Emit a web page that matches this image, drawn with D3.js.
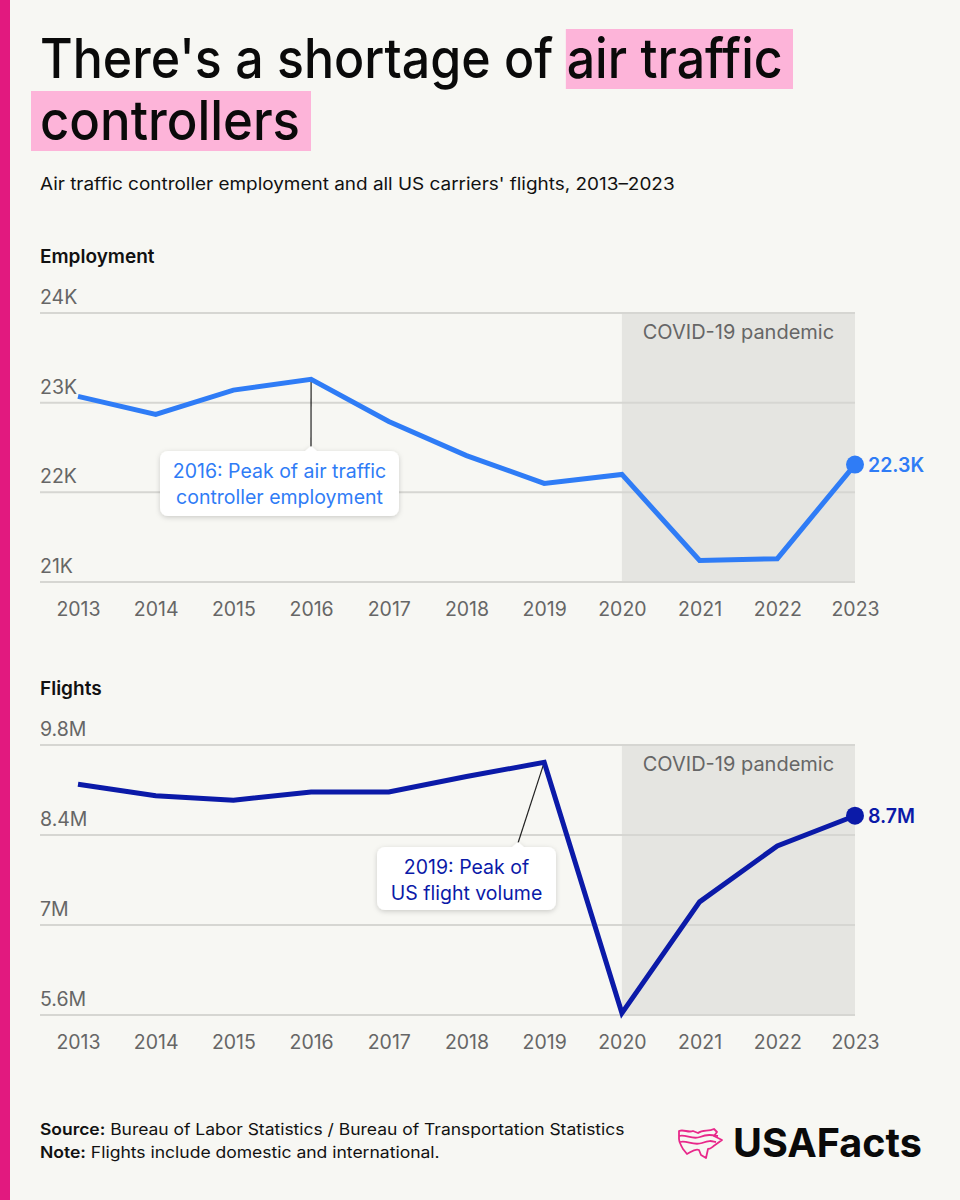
<!DOCTYPE html>
<html>
<head>
<meta charset="utf-8">
<script src="https://cdn.jsdelivr.net/npm/d3@7"></script>
<style>
  body { margin: 0; background: #f7f7f3; }
  svg text { font-family: Inter, "Noto Sans", sans-serif; }
</style>
</head>
<body>
<svg id="chart" width="960" height="1200"></svg>
<script>
// data
const years = [2013, 2014, 2015, 2016, 2017, 2018, 2019, 2020, 2021, 2022, 2023];
const employment = [23070, 22870, 23140, 23260, 22790, 22410, 22100, 22200, 21240, 21260, 22310];
const flights = [9.19, 9.01, 8.94, 9.07, 9.07, 9.31, 9.53, 5.63, 7.36, 8.23, 8.70]; // millions
const employmentTicks = [21000, 22000, 23000, 24000];
const flightTicks = [5.6, 7, 8.4, 9.8];
const covidYears = [2020, 2023];

const svg = d3.select("#chart");

svg.append("rect").attr("width", 960).attr("height", 1200).attr("fill", "#f7f7f3");
svg.append("rect").attr("width", 10).attr("height", 1200).attr("fill", "#e2197f");

// drop shadow for the callout boxes
const defs = svg.append("defs");
defs.append("filter").attr("id", "shadow")
  .attr("x", "-20%").attr("y", "-20%").attr("width", "140%").attr("height", "160%")
  .append("feDropShadow")
  .attr("dx", 0).attr("dy", 1.5).attr("stdDeviation", 2.5)
  .attr("flood-color", "#000").attr("flood-opacity", 0.18);

// squeeze a start-anchored text horizontally to a given width, returns the factor
function fit(sel, w) {
  const x0 = +sel.attr("x");
  const k = w / sel.node().getComputedTextLength();
  sel.attr("transform", `translate(${x0},0) scale(${k},1) translate(${-x0},0)`);
  return k;
}

// ---- title with pink highlights (one text per line, highlight drawn behind)
const title = svg.append("g");
const hlLayer = title.append("g");
function titleLine(plain, marked, base, width, padL, padR) {
  const t = title.append("text")
    .attr("x", 40).attr("y", base)
    .attr("font-size", 55).attr("font-weight", 500)
    .attr("fill", "#0a0a0a")
    .style("white-space", "pre");
  if (plain) t.append("tspan").text(plain);
  t.append("tspan").text(marked);
  const pre = plain ? t.node().getSubStringLength(0, plain.length) : 0;
  const k = fit(t, width);
  const x0 = 40 + pre * k;
  hlLayer.append("rect")
    .attr("x", x0 - padL).attr("y", base - 49)
    .attr("width", 40 + width - x0 + padL + padR).attr("height", 60)
    .attr("fill", "#fdb4d9");
}
titleLine("There's a shortage of ", "air traffic", 78, 743, 1, 10);
titleLine("", "controllers", 140, 260, 9, 11);

const sub = svg.append("text")
  .attr("x", 40).attr("y", 190)
  .attr("font-size", 17).attr("fill", "#111")
  .text("Air traffic controller employment and all US carriers' flights, 2013\u20132023");
fit(sub, 635);

// ---- shared x scale
const x = d3.scaleLinear().domain([2013, 2023]).range([78, 855]);
const gridLeft = 40;

function drawPanel(opts) {
  const g = svg.append("g");
  const y = d3.scaleLinear().domain(opts.domain).range([opts.bottom, opts.top]);

  g.append("text")
    .attr("x", 40).attr("y", opts.top - 50)
    .attr("font-size", 19).attr("font-weight", 600).attr("fill", "#111")
    .text(opts.title);

  // covid shading
  g.append("rect")
    .attr("x", x(covidYears[0])).attr("y", opts.top)
    .attr("width", x(covidYears[1]) - x(covidYears[0]))
    .attr("height", opts.bottom - opts.top)
    .attr("fill", "#e5e5e1");
  g.append("text")
    .attr("x", (x(covidYears[0]) + x(covidYears[1])) / 2)
    .attr("y", opts.top + 26)
    .attr("text-anchor", "middle")
    .attr("font-size", 20).attr("fill", "#666")
    .text("COVID-19 pandemic");

  // gridlines + labels sitting above them
  const grid = g.selectAll(".grid").data(opts.ticks).join("g").attr("class", "grid");
  grid.append("line")
    .attr("x1", gridLeft).attr("x2", x(2023))
    .attr("y1", d => y(d)).attr("y2", d => y(d))
    .attr("stroke", "#d6d6d2").attr("stroke-width", 2);
  grid.append("text")
    .attr("x", gridLeft).attr("y", d => y(d) - 9)
    .attr("font-size", 19.5).attr("fill", "#666")
    .text(opts.tickFormat);

  // year axis
  const axis = g.append("g")
    .attr("transform", `translate(0,${opts.bottom})`)
    .call(d3.axisBottom(x).tickValues(years).tickFormat(d3.format("d")).tickSize(0).tickPadding(20));
  axis.select(".domain").remove();
  axis.selectAll("text")
    .attr("font-size", 19.5).attr("fill", "#666")
    .style("font-family", "Inter, 'Noto Sans', sans-serif");

  // leader line under the line
  const a = opts.note;
  const pi = years.indexOf(a.year);
  g.append("line")
    .attr("x1", x(a.year)).attr("y1", y(opts.values[pi]))
    .attr("x2", a.px).attr("y2", a.by - 4)
    .attr("stroke", "#222").attr("stroke-width", 1.2);

  // the series
  const line = d3.line().x((d, i) => x(years[i])).y(d => y(d));
  g.append("path")
    .datum(opts.values)
    .attr("d", line)
    .attr("fill", "none")
    .attr("stroke", opts.color)
    .attr("stroke-width", 5)
    .attr("stroke-linejoin", "miter");

  const last = opts.values.length - 1;
  g.append("circle")
    .attr("cx", x(years[last])).attr("cy", y(opts.values[last]))
    .attr("r", 9).attr("fill", opts.color);
  g.append("text")
    .attr("x", x(years[last]) + 13).attr("y", y(opts.values[last]) + 7)
    .attr("font-size", 19.5).attr("font-weight", 600).attr("fill", opts.color)
    .text(opts.lastLabel);

  // callout box
  const box = g.append("g").attr("filter", "url(#shadow)");
  box.append("rect")
    .attr("x", a.bx).attr("y", a.by).attr("width", a.bw).attr("height", a.bh)
    .attr("rx", 8).attr("fill", "#fff");
  box.append("path")
    .attr("d", `M${a.px - 7},${a.by + 1}L${a.px},${a.by - 5}L${a.px + 7},${a.by + 1}Z`)
    .attr("fill", "#fff");
  a.lines.forEach((t, i) => {
    g.append("text")
      .attr("x", a.bx + a.bw / 2).attr("y", a.by + 27 + i * 26)
      .attr("text-anchor", "middle")
      .attr("font-size", 19.5).attr("fill", opts.color)
      .text(t);
  });
}

drawPanel({
  title: "Employment",
  values: employment,
  domain: [21000, 24000],
  ticks: employmentTicks,
  tickFormat: d => d / 1000 + "K",
  top: 313, bottom: 582,
  color: "#2f7cf6",
  lastLabel: "22.3K",
  note: { year: 2016, px: 311, bx: 160, by: 451, bw: 239, bh: 65,
          lines: ["2016: Peak of air traffic", "controller employment"] }
});

drawPanel({
  title: "Flights",
  values: flights,
  domain: [5.6, 9.8],
  ticks: flightTicks,
  tickFormat: d => d + "M",
  top: 745, bottom: 1015,
  color: "#0b1aa8",
  lastLabel: "8.7M",
  note: { year: 2019, px: 518, bx: 377, by: 847, bw: 179, bh: 63,
          lines: ["2019: Peak of", "US flight volume"] }
});

// ---- footer
const src = svg.append("text").attr("x", 40).attr("y", 1135).attr("font-size", 16).attr("fill", "#111");
src.append("tspan").attr("font-weight", 600).text("Source:");
src.append("tspan").text(" Bureau of Labor Statistics / Bureau of Transportation Statistics");
fit(src, 585);
const note = svg.append("text").attr("x", 40).attr("y", 1158).attr("font-size", 16).attr("fill", "#111");
note.append("tspan").attr("font-weight", 600).text("Note:");
note.append("tspan").text(" Flights include domestic and international.");
fit(note, 400);

// ---- logo
const logo = svg.append("g").attr("transform", "translate(678,1128)")
  .attr("fill", "none").attr("stroke", "#e8288a").attr("stroke-width", 1.8)
  .attr("stroke-linejoin", "round");
logo.append("path").attr("d",
  "M1,3 C6,1 10,5 15,3 L20,5 C25,1 30,4 36,1 L39,4 L36,8 L44,12 L37,17 C34,19 33,21 30,21 L28,30 L23,27 L21,22 C17,20 13,24 9,26 L5,21 C3,17 1,15 1,11 Z");
logo.append("path").attr("d", "M1,8 C8,6 14,12 22,9 S34,7 40,8");
logo.append("path").attr("d", "M2,14 C9,12 15,18 24,15 S33,13 38,14");

const brand = svg.append("text")
  .attr("x", 733).attr("y", 1157)
  .attr("font-size", 40).attr("font-weight", 700).attr("fill", "#0a0a0a")
  .text("USAFacts");
fit(brand, 189);
</script>
</body>
</html>
